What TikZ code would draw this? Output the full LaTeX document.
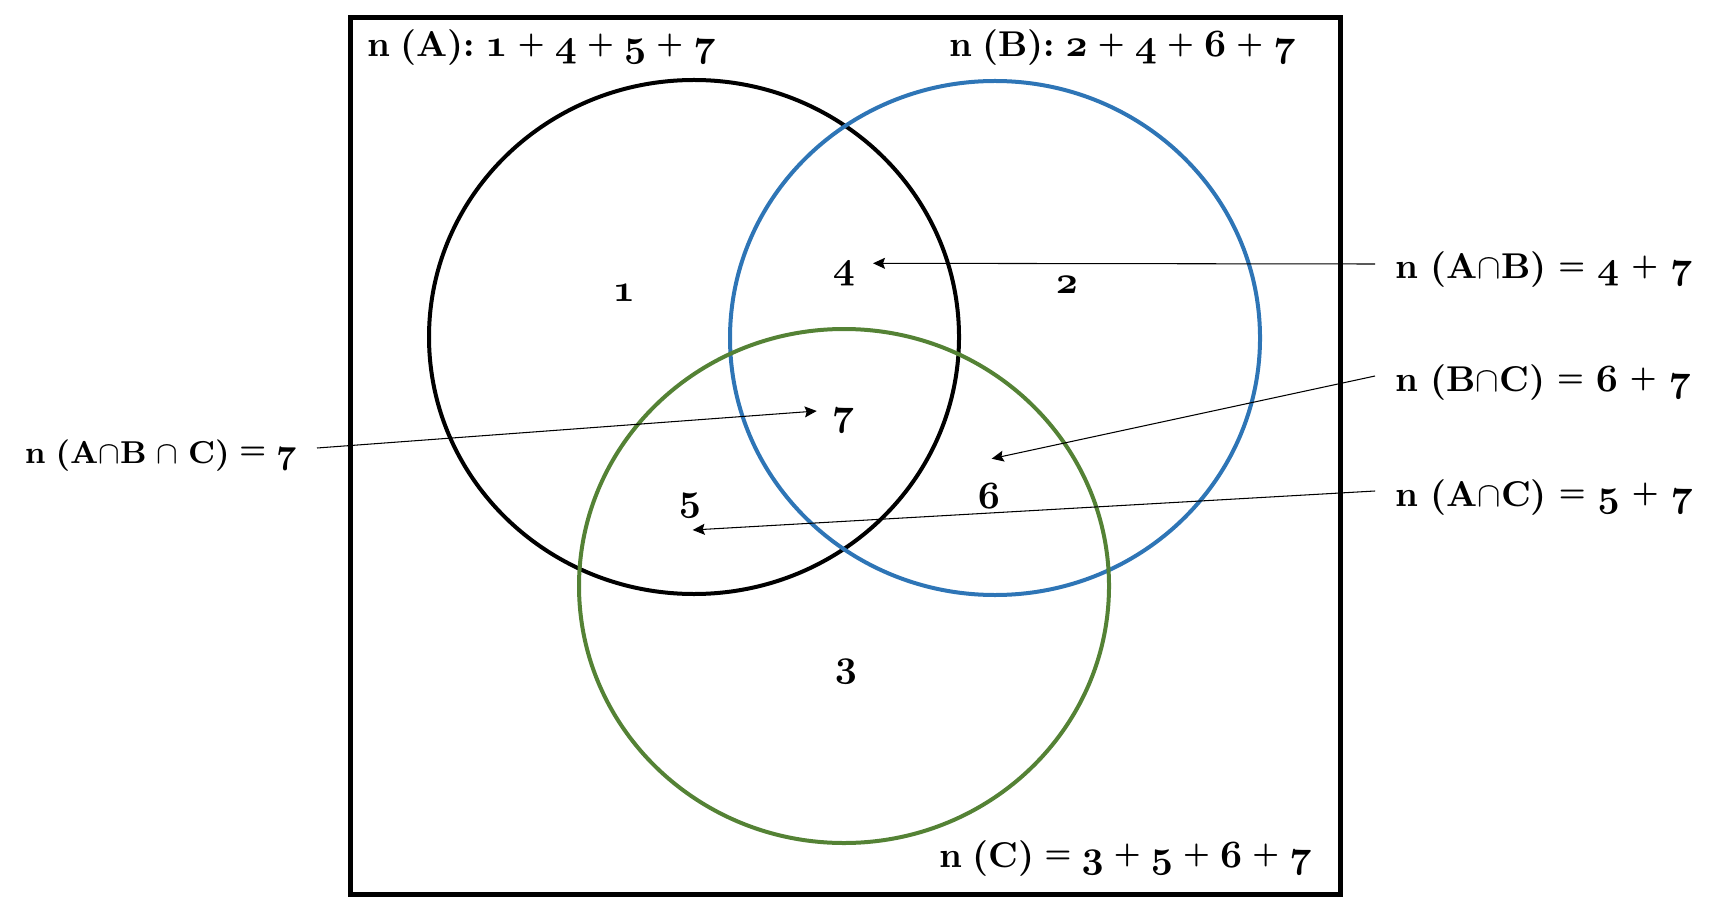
\documentclass[tikz,border=0pt]{standalone}
\usepackage{tikz}
\usetikzlibrary{arrows.meta}
\definecolor{setblue}{RGB}{46,117,182}
\definecolor{setgreen}{RGB}{84,130,53}
\newcommand{\onum}[1]{{\fontsize{11.4}{13}\usefont{OML}{cmm}{b}{it}#1}}
\newcommand{\snum}[1]{{\fontsize{10}{12}\usefont{OML}{cmm}{b}{it}#1}}
\newcommand{\psign}{\raisebox{1.4pt}{\fontsize{8}{10}\selectfont +}}
\newcommand{\esign}{\raisebox{1.4pt}{\fontsize{8}{10}\selectfont =}}
\newcommand{\titlefont}{\fontsize{10.2}{12}\selectfont\bfseries\spaceskip 2.9pt\relax}
\newcommand{\sumfont}{\fontsize{10.2}{12}\selectfont\bfseries\spaceskip 3.4pt\relax}
\newcommand{\smallsumfont}{\fontsize{9}{11}\selectfont\bfseries\spaceskip 2.8pt\relax}
\tikzstyle{arrow} = [line width=0.3pt, -{Stealth[length=1.2mm, width=1.1mm, inset=0.2mm]}]

\begin{document}
\begin{tikzpicture}[x=0.1mm, y=-0.1mm, font=\fontsize{10.2}{12}\selectfont\bfseries]
  % Define node style
  \tikzstyle{ring} = [line width=0.4mm]
  \tikzstyle{region} = [inner sep=0pt]
  \tikzstyle{title} = [inner sep=0pt, anchor=base, font=\titlefont]
  \tikzstyle{sumlabel} = [inner ysep=0pt, inner xsep=2mm, text height=3mm, text depth=0pt, font=\sumfont]

  \useasboundingbox (0,0) rectangle (1720,906);

  % Universal set
  \draw [line width=0.5mm] (350.5,17.5) rectangle (1340,894.5);

  % Sets A, B and C
  \coordinate (A) at (694,337);
  \coordinate (B) at (995,338);
  \coordinate (C) at (844,586);
  \draw [ring, black] (A) ellipse [x radius=265, y radius=257];
  \draw [ring, setblue] (B) ellipse [x radius=265, y radius=257];
  \draw [ring, setgreen] (C) ellipse [x radius=265, y radius=257];

  % Region numbers
  \node [region] (r1) at (624,293) {\onum{1}};
  \node [region] (r2) at (1067,285) {\onum{2}};
  \node [region] (r3) at (846,672) {\onum{3}};
  \node [region] (r4) at (844,273.5) {\onum{4}};
  \node [region] (r5) at (690,505.5) {\onum{5}};
  \node [region] (r6) at (989,496) {\onum{6}};
  \node [region] (r7) at (843,420.5) {\onum{7}};

  % Set sizes
  \node [title] (nA) at (541.5,57) {n (A): \onum{1} \psign\ \onum{4} \psign\ \onum{5} \psign\ \onum{7}};
  \node [title] (nB) at (1122.5,57) {n (B): \onum{2} \psign\ \onum{4} \psign\ \onum{6} \psign\ \onum{7}};
  \node [title] (nC) at (1125.5,867.5) {n (C) \esign\ \onum{3} \psign\ \onum{5} \psign\ \onum{6} \psign\ \onum{7}};

  % Intersections
  \node [sumlabel, anchor=west] (AB) at (1375,264) {n (A${\cap}$B) \esign\ \onum{4} \psign\ \onum{7}};
  \node [sumlabel, anchor=west] (BC) at (1375,376) {n (B${\cap}$C) \esign\ \onum{6} \psign\ \onum{7}};
  \node [sumlabel, anchor=west] (AC) at (1375,491) {n (A${\cap}$C) \esign\ \onum{5} \psign\ \onum{7}};
  \node [sumlabel, anchor=east, font=\smallsumfont] (ABC) at (317,448) {n (A${\cap}$B ${\cap}$ C) \esign\ \snum{7}};

  % Arrow tips
  \coordinate (tip4) at (873,263.3);
  \coordinate (tip6) at (991.7,458.7);
  \coordinate (tip5) at (692.7,530);
  \coordinate (tip7) at (816.7,411);

  % Pointers
  \draw [arrow] (AB.west) -- (tip4);
  \draw [arrow] (BC.west) -- (tip6);
  \draw [arrow] (AC.west) -- (tip5);
  \draw [arrow] (ABC.east) -- (tip7);
\end{tikzpicture}
\end{document}
